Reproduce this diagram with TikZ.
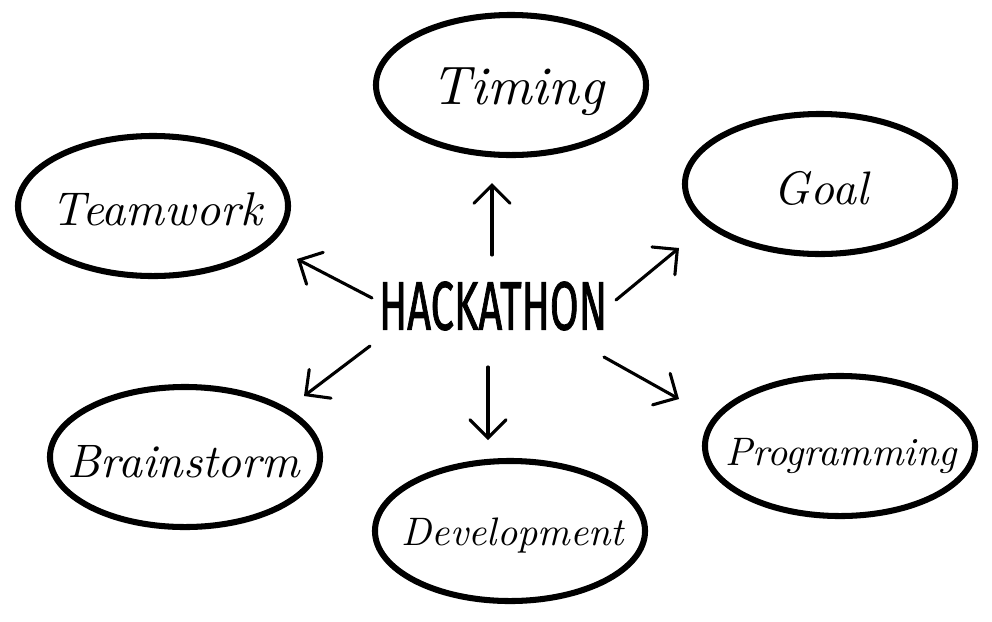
\documentclass[tikz,border=0pt]{standalone}
\usepackage{fontspec}
\newfontfamily\hackfont[FakeBold=1.6]{Fira Sans}
\usetikzlibrary{arrows.meta,shapes.geometric}
\newcommand\lbl[2]{\resizebox{#1}{!}{\itshape #2}}
\begin{document}
\begin{tikzpicture}[x=0.025cm,y=-0.025cm,
  bubble/.style={ellipse, draw, line width=4.3pt, minimum width=6.75cm, minimum height=3.5cm, inner sep=0pt},
  word/.style={inner sep=0pt},
  arr/.style={line width=2.2pt, line cap=round, -{Straight Barb[length=0.45cm, width=0.9cm, line cap=round]}}]
\useasboundingbox (0,0) rectangle (992,621);
\node[bubble] (timing) at (511,85) {};
\node[bubble] (goal) at (820,184) {};
\node[bubble] (team) at (153,206) {};
\node[bubble] (brain) at (185,457) {};
\node[bubble] (dev) at (510,531) {};
\node[bubble] (prog) at (840,446) {};
\node[word] (ttiming) at (518,92) {\lbl{4.3cm}{Timing}};
\node[word] (tgoal) at (821,188) {\lbl{2.35cm}{Goal}};
\node[word] (tteam) at (157,209) {\lbl{5.25cm}{Teamwork}};
\node[word] (tbrain) at (184,462) {\lbl{5.8cm}{Brainstorm}};
\node[word] (tdev) at (513,536) {\lbl{5.55cm}{Development}};
\node[word] (tprog) at (841,456) {\lbl{5.78cm}{Programming}};
\node[word] (hack) at (493,306) {\resizebox{5.7cm}{1.2cm}{\hackfont HACKATHON}};
\coordinate (u0) at (492,255); \coordinate (u1) at (492,183);
\coordinate (d0) at (488,367); \coordinate (d1) at (488,440);
\coordinate (ul0) at (372,298); \coordinate (ul1) at (297,259);
\coordinate (ll0) at (370,346); \coordinate (ll1) at (304,396);
\coordinate (ur0) at (616,300); \coordinate (ur1) at (679,248);
\coordinate (lr0) at (604,357); \coordinate (lr1) at (679,399);
\draw[arr] (u0) -- (u1);
\draw[arr] (d0) -- (d1);
\draw[arr] (ul0) -- (ul1);
\draw[arr] (ll0) -- (ll1);
\draw[arr] (ur0) -- (ur1);
\draw[arr] (lr0) -- (lr1);
\end{tikzpicture}
\end{document}
